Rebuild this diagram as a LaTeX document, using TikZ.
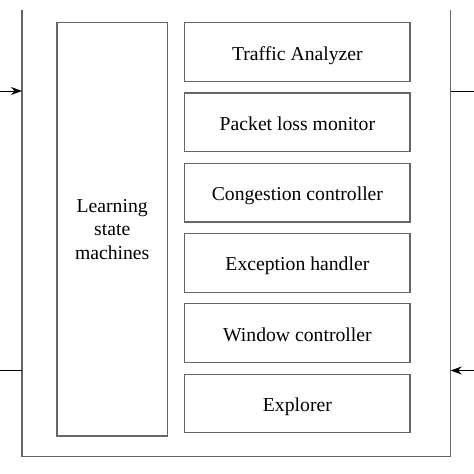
\documentclass[tikz,border=0pt]{standalone}
\usepackage{fontspec}
\setmainfont{Liberation Serif}
\usepackage{tikz}
\usetikzlibrary{arrows.meta,positioning}

\begin{document}
\begin{tikzpicture}[x=1pt,y=-1pt,>={Stealth[length=11pt,width=8pt]},node distance=70.3pt,on grid,
    box/.style={draw=black!60,line width=1.2pt,minimum width=225.3pt,minimum height=58.7pt,inner sep=0pt,
        text height=16pt,text depth=0pt,font=\fontsize{19.7}{23.2}\selectfont},
    lbox/.style={box,minimum width=110.3pt,minimum height=413.3pt,text width=100pt,align=center,
        text height=,text depth=},
    frame/.style={draw=black!60,line width=1.2pt},
    link/.style={draw=black,line width=1pt}]
        \useasboundingbox (0,0) rectangle (474,474);
        \node[lbox] (L) at (112.2,229.4) {Learning\\state\\machines};
        \node[box] (1) at (297.4,52) {Traffic Analyzer};
        \node[box] (2) [below of=1] {Packet loss monitor};
        \node[box] (3) [below of=2] {Congestion controller};
        \node[box] (4) [below of=3] {Exception handler};
        \node[box] (5) [below of=4] {Window controller};
        \node[box] (6) [below of=5] {Explorer};
        % outer frame, open at the top
        \coordinate (tl) at (22,10);
        \coordinate (bl) at (22,456.7);
        \coordinate (br) at (450.7,456.7);
        \coordinate (tr) at (450.7,10);
        \path[frame] (tl) -- (bl) -- (br) -- (tr);
        % in and out links
        \coordinate (inA) at (0,91);
        \coordinate (inB) at (22,91);
        \coordinate (outA) at (450.7,91);
        \coordinate (outB) at (474,91);
        \coordinate (retA) at (474,370.5);
        \coordinate (retB) at (450.7,370.5);
        \coordinate (backA) at (22,370.5);
        \coordinate (backB) at (0,370.5);
        \path[link] (inA) edge[->] (inB)
                    (outA) edge (outB)
                    (retA) edge[->] (retB)
                    (backA) edge (backB);
    \end{tikzpicture}
\end{document}
